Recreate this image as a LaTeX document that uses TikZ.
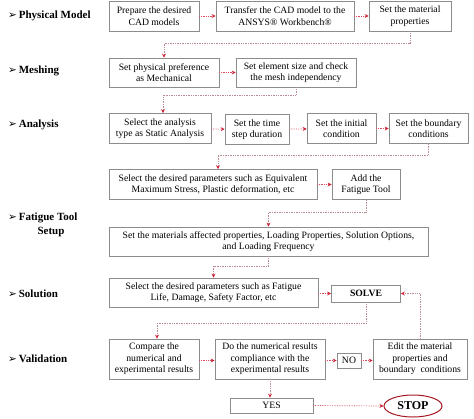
\documentclass[tikz,border=0pt]{standalone}
\usepackage{fontspec}
\setmainfont{Liberation Serif}
\newfontfamily\symfont{DejaVu Sans}
\usetikzlibrary{shapes.geometric,arrows.meta,calc}
\definecolor{boxgray}{RGB}{140,140,140}
\definecolor{linegray}{RGB}{185,140,145}
\definecolor{tipred}{RGB}{205,35,55}
\definecolor{stopred}{RGB}{165,25,35}
\tikzset{
  box/.style={draw=boxgray, line width=0.7pt, align=center, inner sep=1pt,
    font=\fontsize{9.7}{11.5}\selectfont},
  lab/.style={anchor=west, inner sep=0pt, font=\bfseries\fontsize{11}{13}\selectfont},
  harrow/.style={draw=tipred!80, line width=0.7pt, densely dotted,
    -{Stealth[length=4pt,width=4pt,fill=tipred,color=tipred]}},
  rarrow/.style={draw=linegray, line width=0.7pt, densely dotted,
    -{Stealth[length=4pt,width=4pt,fill=tipred,color=tipred]}},
}
\newcommand{\bul}{{\symfont\fontsize{10.5}{12}\selectfont ➢}\,}
\begin{document}
\begin{tikzpicture}[x=1pt,y=-1pt]
\useasboundingbox (0,0) rectangle (474,418);
% labels
\node[lab] (l1) at (8,16) {\bul Physical Model};
\node[lab] (l2) at (8,71) {\bul Meshing};
\node[lab] (l3) at (8,125) {\bul Analysis};
\node[lab] (l4) at (8,218) {\bul Fatigue Tool};
\node[anchor=center, inner sep=0pt, font=\bfseries\fontsize{11}{13}\selectfont] (l4b) at (51,232) {Setup};
\node[lab] (l5) at (8,294) {\bul Solution};
\node[lab] (l6) at (8,359) {\bul Validation};
% row 1
\node[box, minimum width=90pt, minimum height=30pt] (b1) at (154,16) {Prepare the desired\\CAD models};
\node[box, minimum width=138pt, minimum height=30pt] (b2) at (285,16) {Transfer the CAD model to the\\ANSYS® Workbench®};
\node[box, minimum width=82pt, minimum height=30pt] (b3) at (410,16) {Set the material\\properties};
% row 2
\node[box, minimum width=110pt, minimum height=29pt] (b4) at (164,72.5) {Set physical preference\\as Mechanical};
\node[box, minimum width=120pt, minimum height=29pt] (b5) at (296,72.5) {Set element size and check\\the mesh independency};
% row 3
\node[box, minimum width=102pt, minimum height=30pt] (b6) at (160,128.5) {Select the analysis\\type as Static Analysis};
\node[box, minimum width=64pt, minimum height=30pt] (b7) at (257,129.5) {Set the time\\step duration};
\node[box, minimum width=69pt, minimum height=30pt] (b8) at (341.5,128.5) {Set the initial\\condition};
\node[box, minimum width=79pt, minimum height=30pt] (b9) at (428.5,128.5) {Set the boundary\\conditions};
% row 4
\node[box, minimum width=208pt, minimum height=30pt] (b10) at (213,184.5) {Select the desired parameters such as Equivalent\\Maximum Stress, Plastic deformation, etc};
\node[box, minimum width=68pt, minimum height=30pt] (b11) at (366,184.5) {Add the\\Fatigue Tool};
% row 5
\node[box, minimum width=319pt, minimum height=29pt] (b12) at (268.5,241.5) {Set the materials affected properties, Loading Properties, Solution Options,\\and Loading Frequency};
% row 6
\node[box, minimum width=209pt, minimum height=29pt] (b13) at (213.5,292.5) {Select the desired parameters such as Fatigue\\Life, Damage, Safety Factor, etc};
\node[box, minimum width=69pt, minimum height=17pt, font=\bfseries\fontsize{9.7}{11.5}\selectfont] (solve) at (366,293.5) {SOLVE};
% row 7
\node[box, minimum width=90pt, minimum height=40pt] (b14) at (154,359) {Compare the\\numerical and\\experimental results};
\node[box, minimum width=110pt, minimum height=40pt] (b15) at (270,359) {Do the numerical results\\compliance with the\\experimental results};
\node[box, minimum width=24pt, minimum height=15pt] (no) at (349,360.5) {NO};
\node[box, minimum width=94pt, minimum height=40pt] (edit) at (420,359) {Edit the material\\properties and\\boundary\ \ conditions};
% row 8
\node[box, minimum width=83pt, minimum height=15pt] (yes) at (271.5,405.5) {YES};
\node[draw=stopred, line width=1pt, ellipse, minimum width=58pt, minimum height=22pt, inner sep=0pt, font=\bfseries\fontsize{12}{14}\selectfont] (stop) at (413,406) {STOP};
% connectors
\draw[harrow] (b1) -- (b2);
\draw[harrow] (b2) -- (b3);
\draw[rarrow] (b3.south) -- ++(0,12) -| (b4.north);
\draw[harrow] (b4) -- (b5);
\draw[rarrow] (b5.south) -- ++(0,8) -| ([xshift=3pt]b6.north);
\draw[harrow] (b6) -- (b7);
\draw[harrow] (b7) -- (b8);
\draw[harrow] (b8) -- (b9);
\draw[rarrow] (b9.south) -- ++(0,11) -| ([xshift=5pt]b10.north);
\draw[harrow] (b10) -- (b11);
\draw[rarrow] (b11.south) -- ++(0,12) -| (b12.north);
\draw[rarrow] (b12.south) -- ++(0,10) -| (b13.north);
\draw[harrow] (b13.east |- solve.west) -- (solve.west);
\draw[rarrow] (solve.south) -- ++(0,21) -| ([xshift=3pt]b14.north);
\draw[harrow] (b14.east |- no.west) -- (b15.west |- no.west);
\draw[harrow] (b15.east |- no.west) -- (no.west);
\draw[harrow] (no.east) -- (edit.west |- no.east);
\draw[rarrow] (edit.north) |- (solve.east);
\draw[rarrow] (b15.south) -- (b15.south |- yes.north);
\draw[harrow] (yes.east) -- (stop.west);
\end{tikzpicture}
\end{document}
